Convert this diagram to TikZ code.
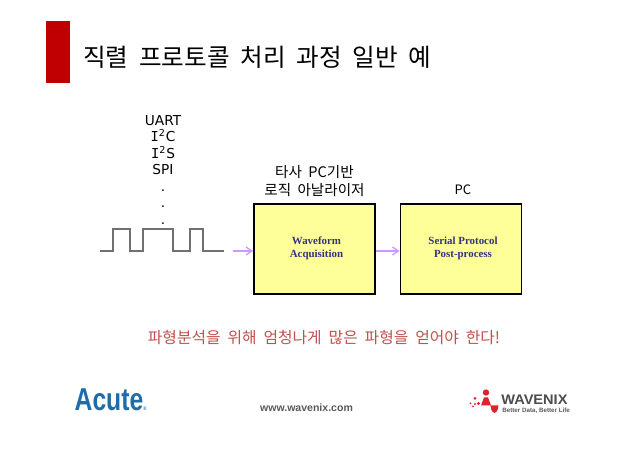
\documentclass[tikz,border=0pt]{standalone}
\usepackage{fontspec}
\setmainfont{DejaVu Sans}
\newfontfamily\krfont{Noto Sans CJK KR}
\newfontfamily\krwidefont[WordSpace=1.95]{Noto Sans CJK KR}
\newfontfamily\boxfont{Liberation Serif}
\newfontfamily\logofont{Liberation Sans}
\newfontfamily\slabfont{DejaVu Sans Mono}
\usetikzlibrary{arrows.meta}
\definecolor{barred}{HTML}{C00000}
\definecolor{boxyellow}{HTML}{FFFF99}
\definecolor{boxnavy}{HTML}{333380}
\definecolor{arrowviolet}{HTML}{CC99FF}
\definecolor{wavegrey}{HTML}{707070}
\definecolor{notered}{HTML}{C0504D}
\definecolor{acuteblue}{HTML}{1F6CA8}
\definecolor{logored}{HTML}{D8262C}
\tikzset{
	blockbox/.style={draw=black, line width=0.35mm, fill=boxyellow, minimum width=24.2mm, minimum height=18mm, inner sep=0pt},
	blocktext/.style={align=center, text=boxnavy, font=\boxfont\bfseries\fontsize{6.2}{7.7}\selectfont},
	sidetext/.style={align=center, font=\krfont\fontsize{8.3}{10}\selectfont},
	feedarrow/.style={draw=arrowviolet, line width=0.25mm, -{Straight Barb[length=1.2mm,width=1.6mm]}}
}
\begin{document}
\begin{tikzpicture}[x=0.2mm, y=-0.2mm]
	%%%%% START %%%%%
	\useasboundingbox (0, 0) rectangle (638, 451);

	\fill[barred] (46, 21) rectangle (70, 83);
	\node[anchor=west, inner sep=0pt, font=\krwidefont\fontsize{14}{16}\selectfont] (title) at (83, 57) {직렬 프로토콜 처리 과정 일반 예};

	\node[align=center, font=\fontsize{7.8}{9.4}\selectfont, anchor=north] (protocols) at (163, 109) {UART\\{\slabfont I}\textsuperscript{2}C\\{\slabfont I}\textsuperscript{2}S\\SPI\\.\\.\\.};

	\node[blockbox] (acq) at (314.5, 249) {};
	\node[blockbox] (post) at (461, 249) {};
	\node[blocktext] (acqtext) at (316.5, 248.5) {Waveform\\Acquisition};
	\node[blocktext] (posttext) at (463, 248.5) {Serial Protocol\\Post-process};

	\node[sidetext] (acqlabel) at (314.5, 181) {타사 PC기반\\로직 아날라이저};
	\node[sidetext, font=\krfont\fontsize{7.4}{10}\selectfont] (postlabel) at (463, 190) {PC};

	% signal
	\draw[wavegrey, line width=0.25mm] (100, 251) -- (113, 251) -- (113, 229) -- (130, 229) -- (130, 251) -- (143, 251) -- (143, 229) -- (173, 229) -- (173, 251) -- (190, 251) -- (190, 229) -- (203, 229) -- (203, 251) -- (224, 251);

	\coordinate (feed) at (233, 251);
	\draw[feedarrow] (feed) -- (acq.west |- feed);
	\draw[feedarrow] (acq.east |- feed) -- (post.west |- feed);

	\node[text=notered, font=\krwidefont\fontsize{9}{10}\selectfont] (note) at (324, 338) {파형분석을 위해 엄청나게 많은 파형을 얻어야 한다!};

	% footer
	\node[text=acuteblue, font=\logofont\bfseries\fontsize{18}{18}\selectfont, xscale=0.78, inner sep=0pt] (acute) at (110.5, 400) {Acute{\fontsize{3}{3}\selectfont ®}};
	\node[text=black!65, font=\logofont\bfseries\fontsize{6}{8}\selectfont] (web) at (306.5, 408) {www.wavenix.com};

	\node[text=black!70, font=\logofont\bfseries\fontsize{7.9}{8}\selectfont, anchor=west, inner sep=0pt, xscale=1.05] (wavenix) at (501, 400) {WAVENIX};
	\node[text=black!65, font=\logofont\bfseries\fontsize{3.55}{5}\selectfont, anchor=west, inner sep=0pt] (tagline) at (502, 411) {Better Data, Better Life};

	\fill[logored] (486, 392.5) circle (3.2);
	\fill[logored] (484, 397.5) -- (488, 397.5) -- (491, 405.5) -- (481, 405.5) -- cycle;
	\fill[logored] (490.5, 405.5) -- (498.5, 405.5) .. controls (498, 411) and (496, 413) .. (494.5, 413) .. controls (493, 413) and (491, 411) .. (490.5, 405.5) -- cycle;
	\fill[logored] (475, 398.5) circle (1.5);
	\fill[logored] (478.5, 403.5) circle (1.7);
	\fill[logored] (475, 404) circle (1.1);
	\fill[logored] (470.5, 403.5) circle (1);
	\fill[logored] (473, 406.5) circle (1);
	%%%%% END %%%%%
\end{tikzpicture}
\end{document}
